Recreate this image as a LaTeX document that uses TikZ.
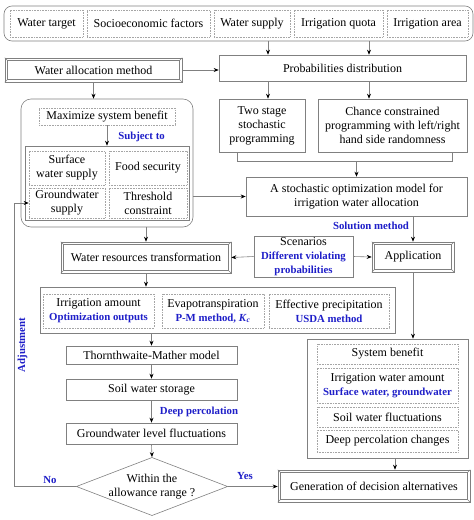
\documentclass[tikz,border=0pt]{standalone}
\usepackage{fontspec}
\setmainfont{Liberation Serif}
\usetikzlibrary{arrows.meta, positioning, shapes.geometric, calc}
\definecolor{LineGray}{RGB}{128,128,128}
\definecolor{DotGray}{RGB}{165,165,165}
\definecolor{NoteBlue}{RGB}{30,30,200}
\newcommand{\bluebf}[1]{{\color{NoteBlue}\bfseries\fontsize{10.8}{13}\selectfont #1}}

\begin{document}
\begin{tikzpicture}[x=1pt, y=-1pt,
        font=\fontsize{12}{14}\selectfont,
        frame/.style={rectangle, draw=LineGray, line width=0.6pt, inner sep=0pt, align=center},
        cell/.style={rectangle, draw=DotGray, densely dotted, line width=0.6pt, inner sep=0pt, align=center},
        group/.style={rectangle, draw=LineGray, line width=0.6pt, inner sep=0pt},
        bevel/.style={frame, append after command={\pgfextra{\let\bv\tikzlastnode
            \draw[LineGray, line width=0.5pt] ([shift={(3pt,-3pt)}]\bv.north west) rectangle ([shift={(-3pt,3pt)}]\bv.south east);
            \draw[LineGray, line width=0.4pt] (\bv.north west) -- ++(3pt,-3pt) (\bv.north east) -- ++(-3pt,-3pt)
                (\bv.south west) -- ++(3pt,3pt) (\bv.south east) -- ++(-3pt,3pt);}}},
        decision/.style={diamond, draw=LineGray, line width=0.6pt, inner sep=0pt, aspect=2.6, align=center},
        note/.style={font=\fontsize{10.8}{13}\selectfont\bfseries, text=NoteBlue, inner sep=1pt, align=center},
        arrow/.style={-{Stealth[length=5pt, width=4pt, color=black]}, draw=LineGray, line width=0.6pt},
        link/.style={draw=LineGray, line width=0.6pt}
    ]
        \useasboundingbox (0,0) rectangle (474,520);
        % input factors
        \node[group, rounded corners=8pt, minimum width=469, minimum height=35] (factors) at (238.5,23.5) {};
        \node[cell, minimum width=73, minimum height=27] (wtarget) at (46.5,23.5) {Water target};
        \node[cell, minimum width=123, minimum height=27] (socio) at (148.5,23.5) {Socioeconomic factors};
        \node[cell, minimum width=76, minimum height=27] (wsupply) at (252,23.5) {Water supply};
        \node[cell, minimum width=89, minimum height=27] (iquota) at (338.5,23.5) {Irrigation quota};
        \node[cell, minimum width=81, minimum height=27] (iarea) at (427.5,23.5) {Irrigation area};
        \coordinate (colA) at (268,0);
        \coordinate (colB) at (369,0);
        % allocation method and probabilities
        \node[bevel, minimum width=177, minimum height=24] (wam) at (93.5,70) {Water allocation method};
        \node[frame, minimum width=247, minimum height=26] (prob) at (342.5,68) {Probabilities distribution};
        \node[frame, minimum width=86, minimum height=53] (twostage) at (262,125.5) {Two stage\\stochastic\\programming};
        \node[frame, minimum width=149, minimum height=53] (chance) at (392.5,125.5) {Chance constrained\\programming with left/right\\hand side randomness};
        % objective and constraints
        \node[group, rounded corners=10pt, minimum width=172, minimum height=128] (big) at (107,163) {};
        \node[cell, minimum width=136, minimum height=17] (maxben) at (107,116.5) {Maximize system benefit};
        \node[group, minimum width=164, minimum height=74] (cons) at (107,183) {};
        \node[cell, minimum width=76, minimum height=34] (surface) at (67,168) {Surface\\water supply};
        \node[cell, minimum width=78, minimum height=34] (food) at (148,168) {Food security};
        \node[cell, minimum width=76, minimum height=30] (ground) at (67,203) {Groundwater\\supply};
        \node[cell, minimum width=78, minimum height=30] (thresh) at (148,203) {Threshold\\constraint};
        \node[note] (subj) at (141.5,137) {Subject to};
        % model and application
        \node[frame, minimum width=221, minimum height=39] (model) at (356.5,196.5) {A stochastic optimization model for\\irrigation water allocation};
        \node[note] (solm) at (371,226) {Solution method};
        \node[bevel, minimum width=82, minimum height=30] (app) at (413,257) {Application};
        \node[frame, minimum width=99, minimum height=41] (scen) at (303.5,256.5) {Scenarios\\\bluebf{Different violating}\\\bluebf{probabilities}};
        \node[bevel, minimum width=170, minimum height=31] (wrt) at (146,257.5) {Water resources transformation};
        % water balance chain
        \node[group, minimum width=355, minimum height=46] (inputs) at (217.5,310) {};
        \node[cell, minimum width=111, minimum height=34] (irr) at (98.5,311) {Irrigation amount\\\bluebf{Optimization outputs}};
        \node[cell, minimum width=102, minimum height=34] (evapo) at (213,311) {Evapotranspiration\\\bluebf{P-M method, \textit{K}\textsubscript{\textit{c}}}};
        \node[cell, minimum width=120, minimum height=34] (effp) at (329,311) {Effective precipitation\\\bluebf{USDA method}};
        \node[frame, minimum width=171, minimum height=18] (tm) at (151.5,355) {Thornthwaite-Mather model};
        \node[frame, minimum width=171, minimum height=21] (soil) at (151.5,389.5) {Soil water storage};
        \node[frame, minimum width=171, minimum height=21] (gw) at (151.5,433.5) {Groundwater level fluctuations};
        \node[decision, minimum width=149, minimum height=57] (dia) at (152,486.5) {Within the\\allowance range ?};
        \node[note] (deepp) at (199,412) {Deep percolation};
        % outputs
        \node[group, minimum width=161, minimum height=119] (outs) at (387.5,398.5) {};
        \node[cell, minimum width=141, minimum height=20] (sysben) at (387.5,354) {System benefit};
        \node[cell, minimum width=141, minimum height=35] (iwa) at (387.5,385.5) {Irrigation water amount\\\bluebf{Surface water, groundwater}};
        \node[cell, minimum width=141, minimum height=20] (swf) at (387.5,417) {Soil water fluctuations};
        \node[cell, minimum width=141, minimum height=22] (dpc) at (387.5,441) {Deep percolation changes};
        \node[bevel, minimum width=192, minimum height=32] (gen) at (374,486) {Generation of decision alternatives};
        \node[note] (yeslab) at (245,476) {Yes};
        \node[note] (nolab) at (50,480) {No};
        \node[note, rotate=90] (adjlab) at (22.5,345) {Adjustment};
        \coordinate (loop) at (14,486.5);
        \coordinate (joinL) at (237,161);
        \coordinate (joinR) at (452,161);
        % connectors
        \draw[arrow] (factors.south -| colA) -- (prob.north -| colA);
        \draw[arrow] (factors.south -| colB) -- (prob.north -| colB);
        \draw[arrow] (wam.east) -- (wam.east -| prob.west);
        \draw[arrow] (wam.south) -- (wam.south |- big.north);
        \draw[arrow] (prob.south -| colA) -- (twostage.north -| colA);
        \draw[arrow] (prob.south -| colB) -- (chance.north -| colB);
        \draw[arrow] (maxben.south) -- (cons.north);
        \draw[link] (twostage.south -| joinL) -- (joinL) -- (joinR) -- (chance.south -| joinR);
        \draw[arrow] (joinL -| model.north) -- (model.north);
        \draw[arrow] (big.east |- model.west) -- (model.west);
        \draw[arrow] (model.south -| app.north) -- (app.north);
        \draw[arrow] (scen.west) -- (wrt.east);
        \draw[arrow] (scen.east) -- (app.west);
        \draw[arrow] (big.south -| wrt.north) -- (wrt.north);
        \draw[arrow] (wrt.south) -- (wrt.south |- inputs.north);
        \draw[arrow] (inputs.south -| tm.north) -- (tm.north);
        \draw[arrow] (tm.south) -- (soil.north);
        \draw[arrow] (soil.south) -- (gw.north);
        \draw[arrow] (gw.south) -- (dia.north);
        \draw[arrow] (app.south) -- (app.south |- outs.north);
        \draw[arrow] ([xshift=7.5pt]outs.south) -- ([xshift=7.5pt]outs.south |- gen.north);
        \draw[arrow] (dia.east) -- (dia.east -| gen.west);
        \draw[arrow] (dia.west) -- (loop) |- (ground.west);
    \end{tikzpicture}
\end{document}
